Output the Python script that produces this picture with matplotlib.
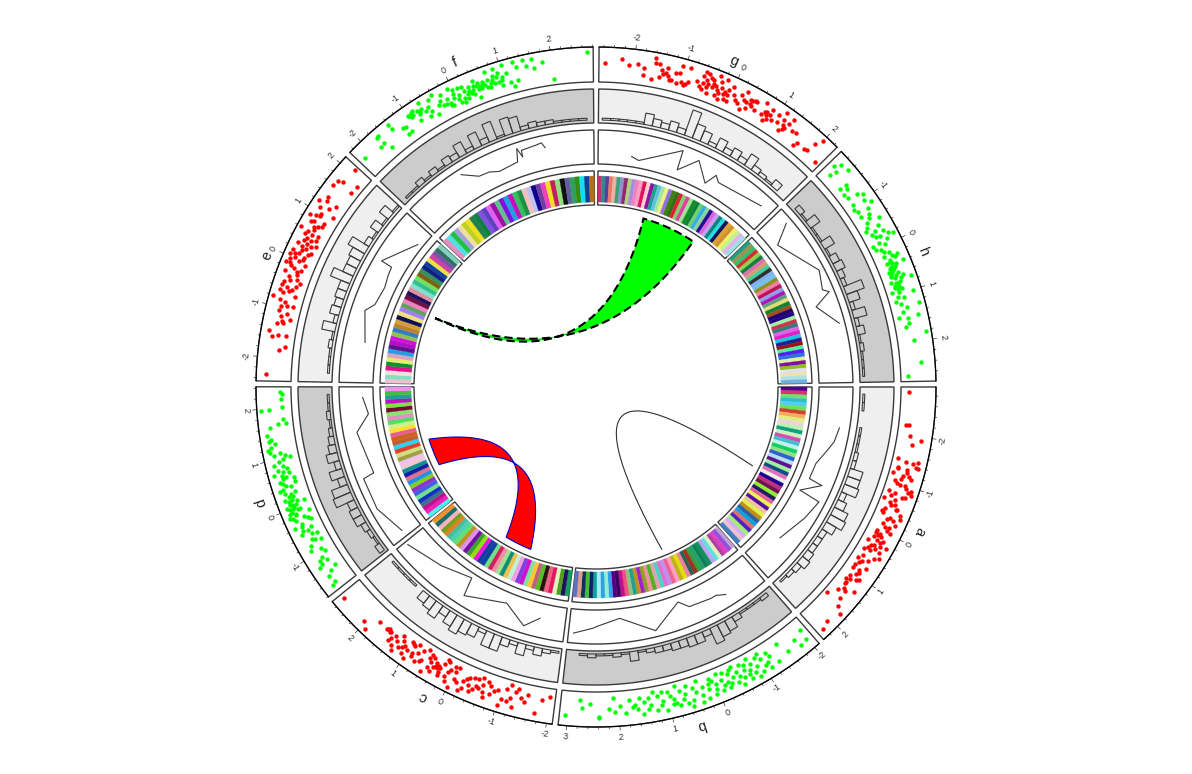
import numpy as np
import matplotlib
matplotlib.use("Agg")
import matplotlib.pyplot as plt
from matplotlib.patches import Polygon

plt.rcParams['font.family'] = ['Liberation Sans', 'DejaVu Sans']

sectors = ['a', 'b', 'c', 'd', 'e', 'f', 'g', 'h']
xlims = [(-2.97, 2.36), (-2.11, 3.16), (-2.11, 2.72), (-1.81, 2.43),
         (-2.46, 2.16), (-2.29, 2.81), (-2.69, 2.27), (-1.97, 2.79)]

# scatter track, (x, y) with y scaled 0-1 in the cell
pts_a = [(-2.86,.22),(-2.2,.2),(-2.2,.28),(-1.99,.37),(-1.92,.7),(-1.82,.46),(-1.5,.15),(-1.49,.73),(-1.45,.4),(-1.45,.62),
 (-1.4,.72),(-1.38,.78),(-1.32,.2),(-1.3,.48),(-1.29,.21),(-1.25,.52),(-1.2,.1),(-1.19,.6),(-1.18,.42),(-1.15,.68),
 (-1.11,.38),(-1.05,.22),(-1,.55),(-1,.3),(-.98,.42),(-.95,.62),(-.92,.77),(-.88,.7),(-.85,.82),(-.82,.15),(-.8,.35),
 (-.77,.67),(-.75,.6),(-.73,.26),(-.68,.42),(-.65,.1),(-.6,.3),(-.58,.48),(-.55,.35),(-.5,.58),(-.49,.55),(-.45,.25),
 (-.42,.72),(-.38,.17),(-.36,.22),(-.34,.77),(-.3,.48),(-.28,.6),(-.25,.42),(-.2,.72),(-.15,.35),(-.11,.59),(-.1,.46),
 (-.05,.55),(-.02,.68),(.02,.3),(.07,.29),(.08,.42),(.1,.38),(.12,.5),(.15,.3),(.18,.59),(.2,.42),(.22,.55),(.27,.76),
 (.28,.2),(.3,.6),(.32,.42),(.35,.34),(.38,.5),(.4,.65),(.42,.3),(.45,.4),(.48,.23),(.5,.74),(.55,.62),(.6,.3),(.65,.52),
 (.7,.2),(.72,.36),(.77,.31),(.8,.58),(.85,.25),(.9,.45),(.92,.24),(.95,.5),(1,.45),(1.06,.61),(1.08,.32),(1.1,.55),(1.15,.4),
 (1.19,.28),(1.25,.34),(1.28,.33),(1.31,.71),(1.37,.42),(1.4,.5),(1.45,.3),(1.57,.5),(1.65,.12),(1.7,.61),(1.81,.81),(2.07,.69),(2.24,.76)]
pts_b = [(-2,.36),(-1.78,.46),(-1.98,.66),(-1.83,.69),(-1.55,.61),(-1.44,.26),(-1.31,.7),(-1.2,.42),(-1.15,.3),(-1.1,.55),
 (-1.04,.59),(-1.0,.36),(-.95,.7),(-.9,.25),(-.88,.48),(-.82,.62),(-.78,.35),(-.75,.15),(-.72,.5),(-.7,.72),(-.65,.28),
 (-.62,.42),(-.58,.6),(-.55,.2),(-.5,.52),(-.45,.36),(-.42,.66),(-.4,.15),(-.35,.45),(-.3,.6),(-.28,.3),(-.22,.52),
 (-.18,.2),(-.12,.38),(-.1,.7),(-.05,.16),(0,.45),(.02,.58),(.08,.3),(.12,.22),(.18,.5),(.22,.75),(.28,.38),(.32,.6),
 (.38,.15),(.42,.45),(.48,.3),(.52,.65),(.55,.82),(.6,.2),(.65,.42),(.7,.55),(.75,.3),(.78,.7),(.82,.12),(.88,.48),
 (.92,.6),(.95,.35),(1.0,.22),(1.05,.75),(1.1,.45),(1.15,.55),(1.2,.3),(1.25,.68),(1.3,.15),(1.35,.5),(1.42,.62),
 (1.48,.4),(1.52,.72),(1.58,.25),(1.62,.55),(1.68,.45),(1.72,.5),(1.77,.28),(1.86,.63),(1.98,.42),(2.08,.6),(2.11,.19),
 (2.2,.5),(2.4,.75),(2.4,.72),(2.57,.35),(2.73,.46),(2.77,.24),(3.04,.7),
 (-1.12,.72),(-.98,.18),(-.85,.78),(-.68,.58),(-.52,.78),(-.33,.22),(-.25,.68),(-.15,.56),(.05,.72),(.15,.35),(.35,.8),(.62,.7),(.85,.62),(1.12,.2),(1.4,.28)]
pts_c = [(2.63,.66),(2.04,.72),(1.92,.83),(1.8,.41),(1.58,.4),(1.6,.43),(1.55,.37),(1.52,.45),(1.5,.42),(1.42,.55),(1.38,.42),
 (1.35,.7),(1.3,.5),(1.28,.82),(1.22,.62),(1.2,.38),(1.15,.55),(1.1,.72),(1.04,.54),(1.03,.24),(1,.8),(.98,.28),(.95,.3),
 (.9,.6),(.88,.22),(.82,.42),(.8,.7),(.75,.3),(.7,.55),(.65,.18),(.6,.82),(.57,.37),(.52,.62),(.5,.45),(.48,.3),(.45,.7),
 (.42,.55),(.38,.48),(.35,.52),(.3,.48),(.29,.6),(.25,.3),(.22,.15),(.18,.17),(.15,.6),(.12,.45),(.08,.38),(.02,.22),
 (0,.85),(-.05,.55),(-.07,.21),(-.12,.62),(-.19,.81),(-.22,.5),(-.28,.42),(-.33,.35),(-.35,.55),(-.4,.72),(-.42,.3),
 (-.45,.62),(-.5,.48),(-.55,.52),(-.59,.21),(-.62,.4),(-.68,.72),(-.72,.25),(-.8,.58),(-.88,.45),(-.94,.38),(-1.01,.81),
 (-1.05,.6),(-1.15,.62),(-1.18,.13),(-1.27,.74),(-1.3,.3),(-1.35,.2),(-1.42,.42),(-1.5,.52),(-1.55,.3),(-1.73,.78),(-1.84,.36),(-2,.25),
 (1.45,.65),(1.25,.28),(1.12,.48),(.92,.52),(.72,.62),(.55,.25),(.4,.38),(.33,.42),(.27,.68),(.1,.75),(-.02,.35),(-.25,.72),(-.5,.28),(-.78,.35),(-1.1,.28),(-1.22,.5),(-.65,.6)]
pts_d = [(2.32,.31),(2.28,.25),(2.19,.3),(2.02,.27),(1.97,.89),(1.97,.65),(1.78,.27),(1.69,.42),(1.7,.2),(1.62,.67),(1.48,.8),
 (1.4,.68),(1.3,.6),(1.36,.75),(1.25,.72),(1.2,.82),(1.15,.8),(1.12,.5),(1.05,.38),(1.02,.24),(.98,.45),(.9,.77),(.85,.52),
 (.8,.42),(.7,.4),(.74,.55),(.71,.84),(.66,.62),(.62,.5),(.58,.3),(.55,.72),(.51,.65),(.5,.29),(.45,.58),(.42,.44),(.38,.8),
 (.32,.68),(.3,.38),(.28,.52),(.24,.6),(.19,.74),(.15,.55),(.1,.23),(.12,.42),(.08,.66),(.05,.48),(.02,.58),(0,.71),(-.02,.62),
 (-.05,.5),(-.08,.68),(-.1,.78),(-.13,.2),(-.15,.6),(-.17,.8),(-.2,.72),(-.22,.4),(-.28,.32),(-.32,.25),(-.35,.55),(-.39,.79),
 (-.41,.59),(-.45,.35),(-.5,.48),(-.55,.68),(-.6,.42),(-.63,.28),(-.7,.5),(-.76,.25),(-.82,.62),(-.89,.69),(-1.03,.32),(-1.1,.5),
 (-1.2,.41),(-1.22,.6),(-1.26,.72),(-1.36,.3),(-1.42,.5),(-1.49,.63),(-1.64,.56),(-1.68,.7),
 (1.08,.7),(.95,.6),(.78,.68),(.6,.6),(.4,.7),(.22,.48),(.14,.64),(.06,.6),(.04,.78),(-.04,.42),(-.12,.58),(-.25,.66),(-.48,.62),(-.72,.42),(-.95,.4),(-1.15,.6)]
pts_e = [(-2.32,.73),(-1.77,.25),(-1.84,.4),(-1.53,.27),(-1.55,.48),(-1.58,.65),(-1.48,.76),(-1.3,.41),(-1.32,.59),(-1.21,.24),
 (-1.16,.5),(-1.25,.46),(-1.1,.35),(-1.05,.6),(-.93,.23),(-.97,.57),(-.95,.4),(-.81,.87),(-.85,.66),(-.67,.74),(-.73,.26),
 (-.6,.4),(-.59,.57),(-.7,.62),(-.52,.32),(-.44,.25),(-.44,.55),(-.48,.7),(-.36,.62),(-.3,.4),(-.24,.45),(-.28,.78),(-.18,.55),
 (-.11,.84),(-.1,.72),(-.06,.3),(-.02,.5),(.01,.66),(.05,.84),(.08,.4),(.12,.58),(.14,.8),(.19,.56),(.21,.26),(.25,.45),(.3,.75),
 (.32,.36),(.38,.22),(.4,.62),(.44,.43),(.48,.3),(.52,.7),(.57,.3),(.59,.65),(.61,.88),(.66,.5),(.74,.45),(.78,.72),(.82,.63),
 (.86,.36),(.89,.85),(.95,.55),(1.0,.56),(1.07,.22),(1.2,.84),(1.28,.32),(1.28,.64),(1.59,.75),(1.69,.21),(1.75,.59),(1.86,.2),(2.08,.55),
 (-.88,.5),(-.65,.46),(-.55,.72),(-.38,.35),(-.2,.34),(-.15,.66),(-.04,.76),(.03,.42),(.1,.7),(.16,.34),(.28,.6),(.35,.5),(.46,.58),(.55,.48),(.7,.55),(.8,.35),(.92,.68),(1.1,.7),(1.18,.45),(1.35,.66),(1.72,.72)]
pts_f = [(-2.16,.58),(-1.68,.78),(-1.72,.76),(-1.78,.5),(-1.7,.52),(-1.62,.28),(-1.4,.84),(-1.39,.68),(-1.21,.51),(-1.15,.5),(-1.19,.27),
 (-1.1,.3),(-1.0,.72),(-.95,.62),(-.87,.76),(-.9,.66),(-.83,.4),(-.8,.7),(-.76,.62),(-.7,.85),(-.66,.55),(-.61,.36),(-.56,.46),
 (-.5,.78),(-.46,.29),(-.42,.86),(-.38,.5),(-.32,.6),(-.25,.75),(-.22,.42),(-.18,.55),(-.15,.33),(-.11,.3),(-.08,.81),(-.05,.48),
 (-.02,.6),(.03,.4),(.06,.28),(.1,.7),(.13,.24),(.17,.69),(.2,.55),(.25,.42),(.3,.6),(.36,.47),(.38,.35),(.42,.73),(.44,.55),(.46,.2),
 (.5,.62),(.55,.42),(.6,.52),(.66,.4),(.69,.84),(.7,.6),(.75,.48),(.8,.65),(.85,.85),(.87,.59),(.9,.42),(.96,.31),(1.0,.55),(1.03,.87),
 (1.13,.33),(1.18,.19),(1.29,.34),(1.26,.88),(1.3,.72),(1.49,.67),(1.45,.85),(1.61,.85),(1.64,.58),(1.82,.7),(2,.18),(2.69,.87),
 (-.98,.7),(-.92,.72),(-.78,.55),(-.72,.68),(-.58,.62),(-.28,.44),(-.14,.4),(.0,.72),(.08,.5),(.16,.35),(.22,.3),(.28,.48),(.33,.4),(.4,.58),(.48,.42),(.53,.5),(.58,.6),(.63,.48),(.72,.38),(.78,.55),(.82,.44),(.92,.68),(.98,.45),(1.08,.62)]
pts_g = [(-2.58,.55),(-2.24,.7),(-2.1,.54),(-1.93,.58),(-1.8,.49),(-1.8,.29),(-1.59,.84),(-1.59,.7),(-1.5,.68),(-1.62,.24),(-1.48,.32),
 (-1.4,.44),(-1.34,.62),(-1.36,.47),(-1.3,.4),(-1.26,.3),(-1.17,.55),(-1.08,.58),(-1.06,.78),(-.91,.79),(-1.1,.27),(-.97,.27),(-.88,.4),
 (-.93,.32),(-.58,.82),(-.52,.8),(-.65,.36),(-.6,.5),(-.55,.62),(-.45,.71),(-.31,.85),(-.58,.31),(-.47,.26),(-.3,.29),(-.28,.46),(-.41,.48),
 (-.52,.42),(-.38,.58),(-.16,.83),(-.07,.59),(-.2,.55),(-.01,.73),(-.11,.27),(-.22,.2),(-.04,.27),(-.15,.4),(.13,.41),(.21,.62),(.27,.77),
 (.28,.51),(.4,.6),(.49,.65),(.45,.62),(.52,.64),(.28,.21),(.37,.31),(.46,.44),(.71,.76),(.86,.68),(.8,.55),(.8,.45),(.8,.28),(.72,.4),
 (.88,.5),(1.02,.66),(1.13,.83),(1.16,.62),(1.31,.79),(1.19,.48),(1.17,.28),(1.22,.38),(1.25,.44),(1.42,.5),(1.49,.53),(1.6,.21),(1.64,.32),
 (1.82,.31),(1.89,.36),(1.93,.64),(1.99,.84),(2.17,.27),
 (-1.44,.55),(-1.22,.32),(-1.02,.34),(-.72,.5),(-.62,.68),(-.5,.5),(-.42,.68),(-.34,.55),(-.25,.72),(-.24,.38),(-.12,.5),(-.06,.42),(.06,.5),(.18,.34),(.33,.48),(.42,.5),(.55,.38),(.76,.5),(.84,.36),(.95,.42),(1.08,.45),(1.28,.6)]
pts_h = [(-1.86,.56),(-1.79,.32),(-1.75,.48),(-1.78,.74),(-1.63,.78),(-1.43,.27),(-1.29,.25),(-1.42,.47),(-1.35,.42),(-1.2,.3),(-1.08,.71),
 (-.98,.63),(-.88,.76),(-1.02,.28),(-.92,.23),(-.85,.3),(-.73,.29),(-.7,.53),(-.54,.73),(-.55,.34),(-.42,.57),(-.29,.62),(-.21,.72),(-.23,.36),
 (-.41,.17),(-.2,.48),(-.16,.85),(-.09,.36),(-.09,.15),(.11,.38),(.01,.19),(.23,.56),(.24,.71),(.39,.78),(.3,.45),(.34,.4),(.41,.55),(.45,.5),
 (.38,.46),(.54,.28),(.51,.4),(.47,.34),(.58,.51),(.62,.44),(.72,.84),(.69,.55),(.66,.62),(.74,.22),(.78,.35),(.8,.42),(.87,.27),(.82,.3),
 (.97,.37),(.92,.48),(1,.75),(.94,.16),(1.05,.3),(1.2,.32),(1.29,.46),(1.26,.82),(1.49,.72),(1.47,.18),(1.38,.3),(1.52,.4),(1.61,.43),(1.68,.31),
 (1.83,.85),(1.97,.48),(2.42,.6),(2.67,.2),
 (-1.15,.55),(-.8,.6),(-.62,.45),(-.48,.28),(-.35,.42),(-.3,.3),(-.12,.62),(-.02,.5),(.05,.32),(.15,.5),(.2,.3),(.28,.62),(.36,.3),(.43,.38),(.49,.45),(.55,.36),(.6,.3),(.63,.28),(.68,.38),(.76,.5),(.85,.42),(.9,.35),(1.1,.45),(1.15,.2)]
points = [pts_a, pts_b, pts_c, pts_d, pts_e, pts_f, pts_g, pts_h]

# histogram track, bin size 0.2, first bin edge then counts
hist_start = [-2.8, -1.95, -2.05, -1.75, -2.25, -2.15, -2.6, -1.75]
hist_a = [1, 1, 0, 0, 1, 1, 1, 2, 2, 7, 7, 8, 3, 5, 8, 9, 6, 3, 3, 3, 4, 5, 3, 2, 1]
hist_b = [2, 1, 1, 1, 3, 6, 7, 9, 3, 5, 5, 4, 4, 3, 3, 2, 1, 5, 1, 2, 1, 1, 2, 1]
hist_c = [1, 2, 4, 2, 6, 2, 4, 8, 8, 2, 6, 7, 9, 7, 4, 8, 6, 5, 0, 1, 1, 1, 1]
hist_d = [3, 1, 2, 3, 5, 5, 4, 10, 9, 4, 7, 3, 6, 4, 3, 2, 1, 2, 1, 1]
hist_e = [1, 1, 1, 2, 1, 7, 2, 5, 4, 5, 5, 11, 6, 6, 7, 10, 3, 1, 5, 1, 6, 1]
hist_f = [1, 1, 3, 1, 3, 1, 4, 3, 7, 2, 8, 3, 10, 1, 9, 8, 2, 3, 2, 2, 1, 1, 1, 1]
hist_g = [1, 1, 1, 1, 1, 6, 4, 3, 5, 3, 14, 8, 6, 2, 6, 3, 5, 3, 7, 3, 2, 1, 4]
hist_h = [3, 1, 6, 1, 1, 6, 1, 4, 5, 3, 2, 10, 6, 2, 7, 2, 4, 1, 2, 1, 1, 1]
hists = [hist_a, hist_b, hist_c, hist_d, hist_e, hist_f, hist_g, hist_h]

# line track
line_x = [[-1.91, -1.53, -1.22, -.84, -.39, -.35, .01, .06, .6, 1.4],
          [-1.11, -.87, -.73, -.11, .13, .92, 1.8, 2.44, 2.51, 3.03],
          [-1.42, -1.06, -.44, .66, .74, 1.6, 2.63],
          [-1.62, -.81, .03, .08, 1.23, 1.68, 2.14],
          [-1.36, -.54, -.3, .23, .56, .8, .81, 1.72],
          [-.74, -.36, -.07, .18, .73, .82, .9, .92, 1.31, 1.46, 1.53],
          [-1.77, -1.56, -.5, -.47, -.03, .38, .54, .69, 1.96],
          [-1.62, -1.32, -.17, .32, .43, .68, 1.27]]
line_y = [[.70, .63, .47, .29, .27, .69, .16, .82, .69, .44],
          [.64, .51, .52, .46, .21, .82, .28, .49, .53, .71],
          [.44, .78, .32, .70, .14, .39, .66],
          [.54, .81, .79, .45, .60, .18, .31],
          [.36, .60, .38, .31, .38, .41, .76, .15],
          [.84, .53, .50, .39, .45, .83, .54, .74, .77, .80, .64],
          [.30, .22, .85, .26, .76, .24, .60, .45, .65],
          [.82, .22, .85, .69, .85, .33, .84]]

# colour track
bands_a = ["#500090","#E03070","#70E070","#30C0C0","#50D0F0","#70E050","#D04030","#F0B060","#E0F080","#F0D0E0","#C0F0B0","#10A080","#D0F0C0","#D050B0","#40C0D0","#C0F0F0","#10D060","#90E080","#3060D0","#B0E0F0","#601090","#A0F0A0","#0F5080","#E070C0","#F0F0E0","#200090","#C03080","#701050","#90F030","#202060","#E060A0","#F0F050","#5010A0","#F0C0A0","#E0F050","#C09010","#3060A0","#10A0E0","#E07070","#5020C0","#A0F070","#D0B0F0","#F0C0D0","#4080C0"]
bands_b = ["#C0A0D0","#9050E0","#E040C0","#B040A0","#E0F0C0","#60E0E0","#C0A0F0","#109060","#108050","#20A070","#30A040","#A03020","#306050","#F080A0","#E0E000","#C0B020","#FFA0C0","#F06090","#C090F0","#E070D0","#50D0C0","#E0A0B0","#50B020","#F090A0","#90A020","#A020D0","#C09020","#20A090","#90C080","#F05080","#C01090","#400060","#500080","#30A0F0","#90F0D0","#30A0E0","#A0F0F0","#10A0A0","#102060","#40C030","#103060","#E0A080","#6070C0"]
bands_c = ["#10A060","#201060","#50A020","#E0F0C0","#E01860","#F06080","#301010","#50C020","#C06080","#FFC830","#80E0A0","#D010D0","#8040E0","#F0A0E0","#C0F0D0","#F0C050","#109070","#A0E090","#F090A0","#D02060","#70E080","#1040A0","#0F40A0","#F010E0","#90E010","#40A030","#7010A0","#E090F0","#C09020","#60E070","#50D0B0","#40C0A0","#E08020","#70A020","#FFB0C0","#107070","#F09030"]
bands_d = ["#F090F0","#40C040","#20A090","#C010C0","#80E040","#701030","#90E070","#E090C0","#50E060","#D0F090","#FFE030","#E06090","#D06020","#C06030","#30D0F0","#E04030","#D0E080","#A0A040","#F0C0F0","#F0C8D0","#109090","#1020A0","#E07090","#2090E0","#80D020","#9030D0","#4060E0","#70E090","#1030C0","#407090","#C01090","#F020C0","#50F0F0"][::-1]
bands_e = ["#80D0C0","#307060","#8050B0","#D040A0","#F0E040","#1040A0","#102080","#309060","#806010","#70E060","#30C090","#80E0D0","#E090A0","#201060","#701040","#F080C0","#60A060","#A080F0","#F0E080","#101050","#D0A040","#C08030","#3080C0","#90C050","#D010E0","#B010C0","#601090","#20A0E0","#E0A0C0","#E0F070","#109030","#E01090","#F0E0E0","#80E0C0","#F0C0D0"][::-1]
bands_f = ["#E090C0","#50E0E0","#20C040","#A0A0E0","#F0E0A0","#C0D020","#F0E020","#208050","#108040","#8050E0","#6040C0","#E060F0","#A010A0","#60C090","#8010E0","#20A0E0","#C010C0","#30C060","#209040","#F0C0C0","#C0C0F0","#100090","#7040A0","#F040C0","#F0E020","#C02060","#90E080","#101010","#6060A0","#30A060","#309010","#10E0F0","#104090","#B07020"]
bands_g = ["#C8306A","#2E8B8B","#5B3F9E","#E87A6A","#F0B0A0","#3CA07A","#9090D0","#8B2A6A","#B0D080","#A090E0","#F080C0","#F5A0C0","#E01060","#FFD0D0","#9010A0","#20A090","#60C0E0","#A0E8A0","#F0F080","#9070E0","#408010","#307010","#E02030","#80D070","#E040A0","#A0E0A0","#109020","#108040","#70D070","#30B0E0","#90D0A0","#20108F","#E060E0","#C0A0F0","#108080","#20E0E0","#101060","#E0A030","#D09030","#F0F070","#C0F090","#E0B0F0","#A0E0E0"]
bands_h = ["#20A080","#A09050","#30C070","#D03030","#90D050","#108040","#E070B0","#D0A070","#40D0A0","#303030","#80B0F0","#70C0F0","#909020","#F080A0","#C01060","#90A0E0","#B010C0","#60A080","#E0E070","#10803A","#A05020","#200070","#200080","#A0F0A0","#D03050","#308070","#E060F0","#E020C0","#20C0E0","#202090","#A01010","#50F0A0","#5020F0","#3070E0","#E0F0A0","#8010A0","#90C020","#E0E0F0","#F0E0B0","#B0E0E0","#70B0E0"]
bands = [bands_a, bands_b, bands_c, bands_d, bands_e, bands_f, bands_g, bands_h]

# links: sector, x on each end, height
link_black = ('a', [0, 0], 'b', [0, 0], [0.40, 0.40])
link_red = ('c', [-0.5, 0.5], 'd', [-0.5, 0.5], [0.19, 0.19])
link_green = ('e', [0, 0], 'g', [-1, 1], [0.335, 0.345])

R = 340.0
GAP = 1.0
tracks = [(305, 340), (264, 298), (223, 257), (182, 216)]
LINK_R = 175.0
EDGE = '#3a3a3a'

deg_per_x = (360 - GAP * len(sectors)) / sum(b - a for a, b in xlims)
starts = {}
pos = 0.0
for s, (a, b) in zip(sectors, xlims):
    starts[s] = pos
    pos -= (b - a) * deg_per_x + GAP
xmin = dict(zip(sectors, [v[0] for v in xlims]))


def angle(s, x):
    return starts[s] - (np.asarray(x, dtype=float) - xmin[s]) * deg_per_x


def to_xy(deg, r):
    t = np.radians(deg)
    return r * np.cos(t), r * np.sin(t)


def band(s, x0, x1, r0, r1):
    th = np.linspace(angle(s, x0), angle(s, x1), max(4, int(abs(x1 - x0) * 12) + 2))
    x_o, y_o = to_xy(th, r1)
    x_i, y_i = to_xy(th[::-1], r0)
    return np.column_stack([np.r_[x_o, x_i], np.r_[y_o, y_i]])


def link_edge(s1, x1, s2, x2, h):
    a1, a2 = angle(s1, x1), angle(s2, x2)
    p0 = np.array(to_xy(a1, LINK_R))
    p1 = np.array(to_xy(a2, LINK_R))
    mid = (p0 + p1) / 2
    top = np.array(to_xy((a1 + a2) / 2, LINK_R - h * R))
    ctrl = 2 * top - mid
    t = np.linspace(0, 1, 120)[:, None]
    return (1 - t) ** 2 * p0 + 2 * t * (1 - t) * ctrl + t ** 2 * p1


fig = plt.figure(figsize=(11.92, 7.74), dpi=100)
ax = fig.add_axes([0, 0, 1, 1])
ax.set_xlim(-596, 596)
ax.set_ylim(-387, 387)
ax.axis('off')

for i, s in enumerate(sectors):
    lo, hi = xlims[i]

    # track 1, points and axis
    ax.add_patch(Polygon(band(s, lo, hi, *tracks[0]), fc='white', ec=EDGE, lw=1.0, zorder=1))
    px = np.array([p[0] for p in points[i]])
    py = np.array([p[1] for p in points[i]])
    sx, sy = to_xy(angle(s, px), tracks[0][0] + py * (tracks[0][1] - tracks[0][0]))
    ax.scatter(sx, sy, s=10, color='#FF0000' if i % 2 == 0 else '#00FF00', linewidths=0, zorder=3)

    th = angle(s, np.linspace(lo, hi, 60))
    ax.plot(*to_xy(th, R), color='black', lw=0.8, zorder=4)
    for v in np.arange(-3, 4, 0.2):
        v = round(float(v), 1)
        if v < lo or v > hi:
            continue
        major = abs(v - round(v)) < 1e-6
        t = angle(s, v)
        x0, y0 = to_xy(t, R)
        x1, y1 = to_xy(t, R + (4 if major else 2))
        ax.plot([x0, x1], [y0, y1], color='#202020', lw=0.45, zorder=4)
        if major:
            rot = t - 90 if np.sin(np.radians(t)) >= 0 else t + 90
            lx, ly = to_xy(t, R + 11)
            ax.text(lx, ly, str(int(round(v))), rotation=rot, rotation_mode='anchor',
                    ha='center', va='center', fontsize=6.5, color='#303030')

    mid = angle(s, (lo + hi) / 2)
    lx, ly = to_xy(mid, R + 14)
    ax.text(lx, ly, s, rotation=mid - 90, rotation_mode='anchor', ha='center', va='center',
            fontsize=10.5, color='#202020')

    # track 2, histogram
    ax.add_patch(Polygon(band(s, lo, hi, *tracks[1]), fc='#EFEFEF' if i % 2 == 0 else '#CCCCCC',
                         ec=EDGE, lw=1.0, zorder=1))
    for j, c in enumerate(hists[i]):
        if c == 0:
            continue
        b0 = hist_start[i] + j * 0.2
        ax.add_patch(Polygon(band(s, b0, b0 + 0.2, 267, 267 + c * 1.9), fc='none', ec=EDGE, lw=0.8, zorder=2))

    # track 3, line
    ax.add_patch(Polygon(band(s, lo, hi, *tracks[2]), fc='white', ec=EDGE, lw=1.0, zorder=1))
    lr = tracks[2][0] + np.array(line_y[i]) * (tracks[2][1] - tracks[2][0])
    ax.plot(*to_xy(angle(s, line_x[i]), lr), color=EDGE, lw=0.8, zorder=2)

    # track 4, colour bands
    ax.add_patch(Polygon(band(s, lo, hi, *tracks[3]), fc='white', ec=EDGE, lw=1.0, zorder=1))
    edges = np.linspace(lo, hi, len(bands[i]) + 1)
    for j, c in enumerate(bands[i]):
        ax.add_patch(Polygon(band(s, edges[j], edges[j + 1], 185, 211), fc=c, ec=c, lw=0.25, zorder=2))

# links
s1, x1, s2, x2, h = link_black
ax.plot(*link_edge(s1, x1[0], s2, x2[0], h[0]).T, color='#303030', lw=0.8, zorder=5)

s1, x1, s2, x2, h = link_red
e0 = link_edge(s1, x1[0], s2, x2[0], h[0])
e1 = link_edge(s1, x1[1], s2, x2[1], h[1])
arc_a = np.column_stack(to_xy(angle(s2, np.linspace(x2[0], x2[1], 12)), LINK_R))
arc_b = np.column_stack(to_xy(angle(s1, np.linspace(x1[1], x1[0], 12)), LINK_R))
ax.add_patch(Polygon(np.vstack([e0, arc_a, e1[::-1], arc_b]), fc='#FF0000', ec='#0000C0', lw=0.8, zorder=5))

s1, x1, s2, x2, h = link_green
e0 = link_edge(s1, x1[0], s2, x2[0], h[0])
e1 = link_edge(s1, x1[1], s2, x2[1], h[1])
arc_a = np.column_stack(to_xy(angle(s2, np.linspace(x2[0], x2[1], 20)), LINK_R))
ax.add_patch(Polygon(np.vstack([e0, arc_a, e1[::-1]]), fc='#00FF00', ec='black', lw=1.5, ls=(0, (4, 2)), zorder=5))

fig.savefig('out.png', dpi=100)
